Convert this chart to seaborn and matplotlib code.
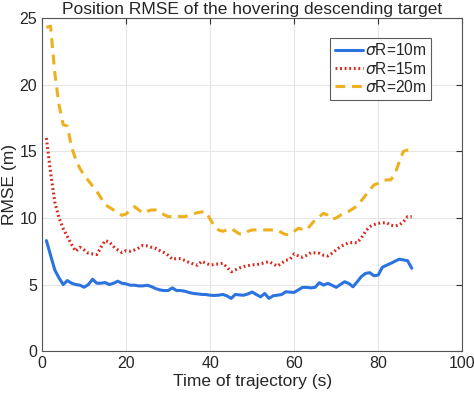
import numpy as np
import pandas as pd
import seaborn as sns
import matplotlib
matplotlib.use("Agg")
import matplotlib.pyplot as plt

# data (x = 1..88 s)
time_s = list(range(1, 89))
rmse_10m = [8.3, 7.2, 6.1, 5.5, 5.0, 5.3, 5.1, 5.0, 4.95, 4.8,
            5.0, 5.4, 5.1, 5.1, 5.15, 5.0, 5.1, 5.25, 5.1, 5.05,
            4.95, 4.95, 4.9, 4.9, 4.95, 4.85, 4.7, 4.6, 4.55, 4.55,
            4.75, 4.55, 4.55, 4.5, 4.4, 4.33, 4.3, 4.26, 4.25, 4.2,
            4.18, 4.2, 4.26, 4.15, 3.96, 4.26, 4.22, 4.2, 4.3, 4.44,
            4.25, 4.08, 4.33, 3.96, 4.16, 4.2, 4.25, 4.46, 4.43, 4.41,
            4.6, 4.79, 4.79, 4.75, 4.79, 5.14, 4.96, 5.09, 4.95, 4.79,
            5.0, 5.21, 5.09, 4.83, 5.2, 5.6, 5.84, 5.89, 5.66, 5.71,
            6.3, 6.45, 6.59, 6.75, 6.9, 6.85, 6.79, 6.22]
rmse_15m = [16.0, 13.4, 11.2, 10.0, 9.2, 8.6, 8.0, 7.5, 7.8, 7.6,
            7.35, 7.3, 7.25, 7.8, 8.3, 8.2, 7.85, 7.6, 7.4, 7.55,
            7.5, 7.6, 7.75, 7.95, 7.9, 7.8, 7.72, 7.55, 7.4, 7.2,
            6.9, 6.95, 6.95, 6.8, 6.65, 6.55, 6.45, 6.75, 6.6, 6.47,
            6.5, 6.55, 6.6, 6.3, 5.96, 6.1, 6.25, 6.35, 6.42, 6.48,
            6.5, 6.55, 6.65, 6.72, 6.55, 6.39, 6.6, 6.82, 6.9, 7.3,
            7.15, 7.05, 7.2, 7.4, 7.38, 7.35, 7.2, 7.14, 7.35, 7.6,
            7.84, 8.0, 8.14, 8.15, 8.14, 8.5, 9.0, 9.35, 9.5, 9.6,
            9.63, 9.65, 9.45, 9.4, 9.47, 9.7, 10.1, 10.1]
rmse_20m = [24.3, 24.4, 20.9, 18.5, 17.0, 16.9, 15.3, 14.4, 13.7, 13.2,
            12.8, 12.4, 12.0, 11.5, 11.0, 10.8, 10.6, 10.4, 10.2, 10.3,
            10.6, 10.85, 10.6, 10.35, 10.5, 10.6, 10.6, 10.45, 10.25, 10.1,
            10.1, 10.15, 10.1, 10.1, 10.2, 10.3, 10.4, 10.45, 10.47, 9.9,
            9.4, 9.1, 9.0, 9.1, 9.22, 9.0, 8.8, 8.8, 9.0, 9.1,
            9.1, 9.1, 9.1, 9.1, 9.1, 9.1, 8.9, 8.75, 8.75, 9.0,
            9.22, 9.15, 9.1, 9.5, 9.85, 10.1, 10.35, 10.2, 9.9, 10.0,
            10.2, 10.35, 10.5, 10.7, 10.9, 11.3, 11.7, 12.1, 12.48, 12.6,
            12.8, 12.86, 12.86, 13.3, 14.2, 15.0, 15.1, 15.1]
labels = [r"$\sigma$R=10m", r"$\sigma$R=15m", r"$\sigma$R=20m"]

df = pd.concat([
    pd.DataFrame({"Time": time_s, "RMSE": rmse_10m, "Case": labels[0]}),
    pd.DataFrame({"Time": time_s, "RMSE": rmse_15m, "Case": labels[1]}),
    pd.DataFrame({"Time": time_s, "RMSE": rmse_20m, "Case": labels[2]}),
])

sns.set_style("white")
plt.rcParams["font.family"] = ["Liberation Sans", "DejaVu Sans"]
plt.rcParams["mathtext.fontset"] = "dejavusans"

fig = plt.figure(figsize=(4.74, 3.95), dpi=100)
ax = fig.add_axes([0.089, 0.111, 0.886, 0.843])

palette = {labels[0]: "#2b73e0", labels[1]: "#d8281c", labels[2]: "#edb120"}
dashes = {labels[0]: "", labels[1]: (0.6, 0.9), labels[2]: (3.2, 2.2)}
sns.lineplot(data=df, x="Time", y="RMSE", hue="Case", style="Case",
             palette=palette, dashes=dashes, linewidth=2.2, ax=ax)

ax.set_xlim(0, 100)
ax.set_ylim(0, 25)
ax.set_xticks([0, 20, 40, 60, 80, 100])
ax.set_yticks([0, 5, 10, 15, 20, 25])
ax.grid(True, color="#e6e6e6", linewidth=0.8)
ax.tick_params(direction="in", top=True, right=True, labelsize=11.5,
               length=4, color="#333333")
for s in ax.spines.values():
    s.set_color("#555555")
    s.set_linewidth(0.8)

ax.set_xlabel("Time of trajectory (s)", fontsize=12.5, labelpad=2)
ax.set_ylabel("RMSE (m)", fontsize=12.5, labelpad=2)
ax.set_title("Position RMSE of the hovering descending target",
             fontsize=12.5, pad=3)

leg = ax.legend(loc="upper right", bbox_to_anchor=(0.945, 0.965), fontsize=11.2,
                frameon=True, fancybox=False, handlelength=1.8,
                handletextpad=0.15, borderpad=0.3, labelspacing=0.15)
leg.get_frame().set_edgecolor("#333333")
leg.get_frame().set_linewidth(0.8)
leg.set_title(None)

fig.savefig("out.png", dpi=100)
